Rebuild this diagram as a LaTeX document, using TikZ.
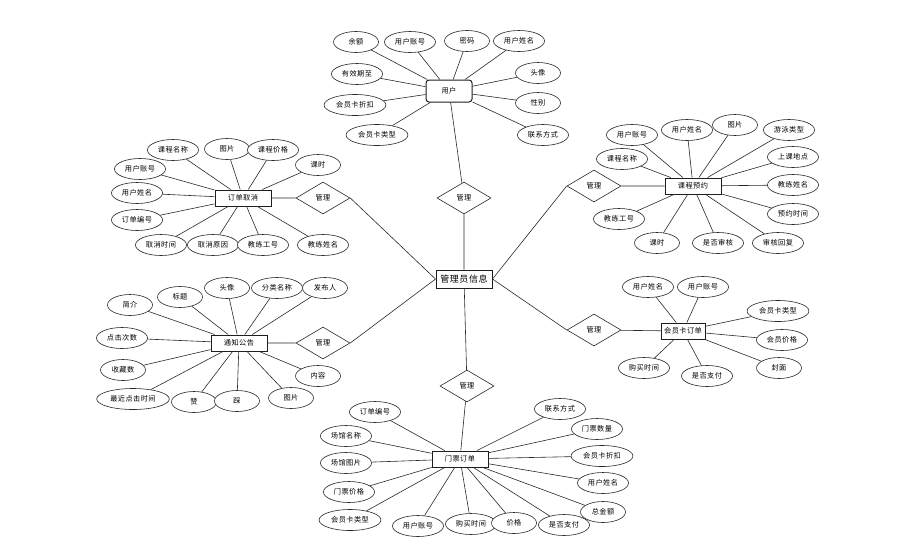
\documentclass[tikz,border=0pt]{standalone}
\usepackage{fontspec}
\newfontfamily\cjk[LetterSpace=6]{Noto Sans CJK SC}
\usetikzlibrary{shapes.geometric, positioning}
\definecolor{linegray}{RGB}{40,40,40}
\definecolor{framegray}{RGB}{30,30,30}

\begin{document}
\begin{tikzpicture}[
        x=1pt, y=-1pt,
        attr/.style={ellipse, draw=linegray, fill=white, line width=0.6pt, minimum width=45pt, minimum height=21pt, inner xsep=3pt, inner ysep=1pt, font=\cjk\fontsize{7.2}{8}\selectfont},
        entity/.style={rectangle, draw=framegray, fill=white, line width=1pt, minimum width=56pt, minimum height=16pt, inner sep=1pt, font=\cjk\fontsize{7.2}{8}\selectfont},
        rel/.style={diamond, draw=linegray, fill=white, line width=0.6pt, minimum width=54pt, minimum height=32pt, inner sep=0pt, font=\cjk\fontsize{7.2}{8}\selectfont},
        link/.style={draw=linegray, line width=0.6pt}
    ]
        \useasboundingbox (0,0) rectangle (909,544);

        % centre
        \node[entity, font=\cjk\fontsize{9}{10}\selectfont, minimum height=18pt] (admin) at (464,279) {管理员信息};
        \node[rel] (r-user) at (464,198) {管理};
        \node[rel] (r-cancel) at (323,198) {管理};
        \node[rel] (r-booking) at (594,186) {管理};
        \node[rel] (r-notice) at (323,343) {管理};
        \node[rel] (r-mcard) at (594,330) {管理};
        \node[rel] (r-ticket) at (467,386) {管理};

        % user
        \node[entity, rounded corners=3pt, minimum width=46pt, minimum height=22pt] (user) at (449,91) {用户};
        \node[attr] (u-balance) at (356,42) {余额};
        \node[attr] (u-account) at (410,42) {用户账号};
        \node[attr] (u-pwd) at (467,41) {密码};
        \node[attr] (u-name) at (519,41) {用户姓名};
        \node[attr] (u-expire) at (357,74) {有效期至};
        \node[attr] (u-discount) at (355,105) {会员卡折扣};
        \node[attr] (u-cardtype) at (377,135) {会员卡类型};
        \node[attr] (u-avatar) at (538,73) {头像};
        \node[attr] (u-gender) at (538,103) {性别};
        \node[attr] (u-phone) at (543,135) {联系方式};

        % order cancel
        \node[entity] (cancel) at (243,198) {订单取消};
        \node[attr] (c-course) at (173,150) {课程名称};
        \node[attr] (c-pic) at (227,149) {图片};
        \node[attr] (c-price) at (273,150) {课程价格};
        \node[attr] (c-account) at (140,169) {用户账号};
        \node[attr] (c-hours) at (318,165) {课时};
        \node[attr] (c-name) at (137,193) {用户姓名};
        \node[attr] (c-orderno) at (137,220) {订单编号};
        \node[attr] (c-time) at (161,245) {取消时间};
        \node[attr] (c-reason) at (213,245) {取消原因};
        \node[attr] (c-coachno) at (263,245) {教练工号};
        \node[attr] (c-coach) at (323,245) {教练姓名};

        % course booking
        \node[entity] (booking) at (693,186) {课程预约};
        \node[attr] (b-account) at (632,135) {用户账号};
        \node[attr] (b-name) at (687,130) {用户姓名};
        \node[attr] (b-pic) at (735,125) {图片};
        \node[attr] (b-swim) at (789,130) {游泳类型};
        \node[attr] (b-course) at (622,159) {课程名称};
        \node[attr] (b-place) at (793,157) {上课地点};
        \node[attr] (b-coach) at (793,185) {教练姓名};
        \node[attr] (b-time) at (793,214) {预约时间};
        \node[attr] (b-coachno) at (619,219) {教练工号};
        \node[attr] (b-hours) at (657,243) {课时};
        \node[attr] (b-audit) at (718,243) {是否审核};
        \node[attr] (b-reply) at (778,243) {审核回复};

        % notice
        \node[entity] (notice) at (239,343) {通知公告};
        \node[attr] (n-intro) at (130,305) {简介};
        \node[attr] (n-title) at (180,297) {标题};
        \node[attr] (n-avatar) at (227,288) {头像};
        \node[attr] (n-category) at (277,288) {分类名称};
        \node[attr] (n-publisher) at (325,288) {发布人};
        \node[attr] (n-clicks) at (122,338) {点击次数};
        \node[attr] (n-favs) at (123,370) {收藏数};
        \node[attr] (n-recent) at (133,399) {最近点击时间};
        \node[attr] (n-like) at (194,402) {赞};
        \node[attr] (n-dislike) at (237,401) {踩};
        \node[attr] (n-pic) at (291,398) {图片};
        \node[attr] (n-content) at (318,376) {内容};

        % member card order
        \node[entity, minimum width=44pt] (mcard) at (683,331) {会员卡订单};
        \node[attr] (m-name) at (648,287) {用户姓名};
        \node[attr] (m-account) at (703,287) {用户账号};
        \node[attr] (m-cardtype) at (778,311) {会员卡类型};
        \node[attr] (m-price) at (782,340) {会员价格};
        \node[attr] (m-cover) at (779,368) {封面};
        \node[attr] (m-time) at (644,368) {购买时间};
        \node[attr] (m-paid) at (707,376) {是否支付};

        % ticket order
        \node[entity] (ticket) at (460,459) {门票订单};
        \node[attr] (t-orderno) at (375,412) {订单编号};
        \node[attr] (t-venue) at (346,436) {场馆名称};
        \node[attr] (t-venuepic) at (346,463) {场馆图片};
        \node[attr] (t-price) at (349,492) {门票价格};
        \node[attr] (t-cardtype) at (350,520) {会员卡类型};
        \node[attr] (t-account) at (418,526) {用户账号};
        \node[attr] (t-time) at (471,524) {购买时间};
        \node[attr] (t-amount) at (514,523) {价格};
        \node[attr] (t-paid) at (564,525) {是否支付};
        \node[attr] (t-total) at (603,512) {总金额};
        \node[attr] (t-name) at (603,483) {用户姓名};
        \node[attr] (t-discount) at (602,456) {会员卡折扣};
        \node[attr] (t-qty) at (597,429) {门票数量};
        \node[attr] (t-phone) at (560,409) {联系方式};

        % links
        \draw[link] (admin) -- (r-user) (r-user) -- (user);
        \draw[link] (admin.west) -- (r-cancel.east) (r-cancel) -- (cancel);
        \draw[link] (admin.east) -- (r-booking.west) (r-booking) -- (booking);
        \draw[link] (admin.west) -- (r-notice.east) (r-notice) -- (notice);
        \draw[link] (admin.east) -- (r-mcard.west) (r-mcard) -- (mcard);
        \draw[link] (admin) -- (r-ticket) (r-ticket) -- (ticket);

        \draw[link] (user) -- (u-balance) (user) -- (u-account) (user) -- (u-pwd) (user) -- (u-name) (user) -- (u-expire)
            (user) -- (u-discount) (user) -- (u-cardtype) (user) -- (u-avatar) (user) -- (u-gender) (user) -- (u-phone);
        \draw[link] (cancel) -- (c-course) (cancel) -- (c-pic) (cancel) -- (c-price) (cancel) -- (c-account) (cancel) -- (c-hours)
            (cancel) -- (c-name) (cancel) -- (c-orderno) (cancel) -- (c-time) (cancel) -- (c-reason) (cancel) -- (c-coachno) (cancel) -- (c-coach);
        \draw[link] (booking) -- (b-account) (booking) -- (b-name) (booking) -- (b-pic) (booking) -- (b-swim) (booking) -- (b-course)
            (booking) -- (b-place) (booking) -- (b-coach) (booking) -- (b-time) (booking) -- (b-coachno) (booking) -- (b-hours)
            (booking) -- (b-audit) (booking) -- (b-reply);
        \draw[link] (notice) -- (n-intro) (notice) -- (n-title) (notice) -- (n-avatar) (notice) -- (n-category) (notice) -- (n-publisher)
            (notice) -- (n-clicks) (notice) -- (n-favs) (notice) -- (n-recent) (notice) -- (n-like) (notice) -- (n-dislike)
            (notice) -- (n-pic) (notice) -- (n-content);
        \draw[link] (mcard) -- (m-name) (mcard) -- (m-account) (mcard) -- (m-cardtype) (mcard) -- (m-price) (mcard) -- (m-cover)
            (mcard) -- (m-time) (mcard) -- (m-paid);
        \draw[link] (ticket) -- (t-orderno) (ticket) -- (t-venue) (ticket) -- (t-venuepic) (ticket) -- (t-price) (ticket) -- (t-cardtype)
            (ticket) -- (t-account) (ticket) -- (t-time) (ticket) -- (t-amount) (ticket) -- (t-paid) (ticket) -- (t-total)
            (ticket) -- (t-name) (ticket) -- (t-discount) (ticket) -- (t-qty) (ticket) -- (t-phone);
    \end{tikzpicture}
\end{document}
